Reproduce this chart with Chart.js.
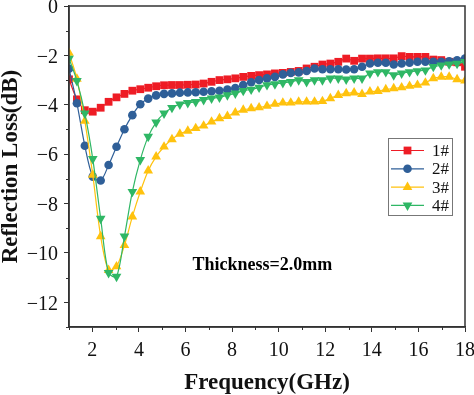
<!DOCTYPE html>
<html>
<head>
<meta charset="utf-8">
<script src="https://cdn.jsdelivr.net/npm/chart.js@4/dist/chart.umd.min.js"></script>
<style>
  html, body { margin: 0; padding: 0; background: #fff; }
  #rlChart { display: block; }
</style>
</head>
<body>
<canvas id="rlChart" width="474" height="395"></canvas>
<script>
// Reflection loss vs frequency, thickness 2.0 mm
const freqs = [
    1.00, 1.34, 1.68, 2.02, 2.36, 2.70, 3.04, 3.38, 3.72, 4.06,
    4.40, 4.74, 5.08, 5.42, 5.76, 6.10, 6.44, 6.78, 7.12, 7.46,
    7.80, 8.14, 8.48, 8.82, 9.16, 9.50, 9.84, 10.18, 10.52, 10.86,
    11.20, 11.54, 11.88, 12.22, 12.56, 12.90, 13.24, 13.58, 13.92, 14.26,
    14.60, 14.94, 15.28, 15.62, 15.96, 16.30, 16.64, 16.98, 17.32, 17.66,
    18.00
];

const rl1 = [
    -2.97, -3.78, -4.22, -4.28, -4.12, -3.88, -3.70, -3.56, -3.43, -3.37,
    -3.31, -3.25, -3.21, -3.20, -3.20, -3.19, -3.18, -3.14, -3.07, -3.00,
    -2.97, -2.93, -2.87, -2.83, -2.80, -2.77, -2.73, -2.71, -2.67, -2.63,
    -2.53, -2.46, -2.37, -2.33, -2.26, -2.13, -2.22, -2.13, -2.13, -2.12,
    -2.12, -2.12, -2.03, -2.06, -2.06, -2.06, -2.17, -2.19, -2.26, -2.28,
    -2.46
];

const rl2 = [
    -2.54, -3.94, -5.66, -6.91, -7.07, -6.44, -5.70, -4.99, -4.42, -3.98,
    -3.75, -3.62, -3.56, -3.54, -3.51, -3.50, -3.49, -3.47, -3.45, -3.43,
    -3.38, -3.32, -3.20, -3.09, -3.00, -2.93, -2.87, -2.77, -2.71, -2.69,
    -2.63, -2.53, -2.56, -2.56, -2.56, -2.57, -2.56, -2.46, -2.33, -2.30,
    -2.30, -2.37, -2.33, -2.30, -2.26, -2.26, -2.26, -2.26, -2.24, -2.20,
    -2.13
];

const rl3 = [
    -1.90, -2.95, -4.66, -6.84, -9.33, -10.70, -10.55, -9.69, -8.53, -7.52,
    -6.67, -6.10, -5.70, -5.40, -5.18, -5.06, -4.95, -4.85, -4.69, -4.55,
    -4.46, -4.32, -4.21, -4.15, -4.11, -4.05, -3.97, -3.92, -3.92, -3.88,
    -3.88, -3.88, -3.86, -3.74, -3.61, -3.54, -3.51, -3.57, -3.47, -3.45,
    -3.38, -3.34, -3.30, -3.24, -3.20, -3.11, -2.93, -2.87, -2.87, -2.97,
    -3.03
];

const rl4 = [
    -2.13, -3.03, -4.35, -6.19, -8.61, -10.81, -10.96, -9.33, -7.52, -6.23,
    -5.29, -4.71, -4.35, -4.12, -3.98, -3.92, -3.88, -3.80, -3.74, -3.70,
    -3.61, -3.54, -3.43, -3.38, -3.30, -3.20, -3.16, -3.11, -3.07, -3.00,
    -3.07, -3.00, -3.00, -2.93, -2.93, -2.97, -2.93, -2.93, -2.73, -2.67,
    -2.67, -2.80, -2.73, -2.67, -2.63, -2.60, -2.46, -2.40, -2.36, -2.33,
    -2.26
];

const seriesNames = ['1#', '2#', '3#', '4#'];
const noteText = 'Thickness=2.0mm';
const noteAt = [9.3, -10.5];

const serif = '"Liberation Serif", "Times New Roman", serif';

function toPoints(values) {
    return freqs.map((f, i) => ({ x: f, y: values[i] }));
}

function makeSet(label, values, color, style, radius, rotation, order) {
    return {
        label: label,
        data: toPoints(values),
        borderColor: color,
        backgroundColor: color,
        borderWidth: 1.2,
        pointStyle: style,
        pointRadius: radius,
        pointRotation: rotation,
        pointBorderWidth: 0,
        pointBackgroundColor: color,
        tension: 0.3,
        order: order
    };
}

const datasets = [
    makeSet(seriesNames[0], rl1, '#ee1c25', 'rect', 5.5, 0, 4),
    makeSet(seriesNames[1], rl2, '#2f5f98', 'circle', 4.3, 0, 3),
    makeSet(seriesNames[2], rl3, '#ffc20e', 'triangle', 5.6, 0, 2),
    makeSet(seriesNames[3], rl4, '#2fb765', 'triangle', 5.6, 180, 1)
];

// frame, minor ticks, note text and the boxed legend
const decorPlugin = {
    id: 'decor',
    afterDraw(chart) {
        const { ctx, chartArea: a, scales } = chart;
        const xs = scales.x, ys = scales.y;
        ctx.save();

        ctx.strokeStyle = '#333';
        ctx.lineWidth = 1.5;
        ctx.strokeRect(a.left, a.top, a.right - a.left, a.bottom - a.top);

        ctx.lineWidth = 1;
        ctx.beginPath();
        for (let v = 1; v <= 17; v += 2) {
            const px = Math.round(xs.getPixelForValue(v)) + 0.5;
            ctx.moveTo(px, a.bottom);
            ctx.lineTo(px, a.bottom + 3);
        }
        for (let v = -13; v <= -1; v += 2) {
            const py = Math.round(ys.getPixelForValue(v)) + 0.5;
            ctx.moveTo(a.left, py);
            ctx.lineTo(a.left - 3, py);
        }
        ctx.stroke();

        ctx.fillStyle = '#000';
        ctx.font = 'bold 18px ' + serif;
        ctx.textAlign = 'center';
        ctx.textBaseline = 'middle';
        ctx.fillText(noteText, xs.getPixelForValue(noteAt[0]), ys.getPixelForValue(noteAt[1]));

        // legend box
        const bx = a.right - 77, by = a.top + 132, bw = 64, bh = 77;
        ctx.strokeStyle = '#777';
        ctx.lineWidth = 1;
        ctx.strokeRect(bx + 0.5, by + 0.5, bw, bh);
        ctx.font = '17px ' + serif;
        ctx.textAlign = 'left';
        chart.data.datasets.forEach((ds, i) => {
            const ry = by + 12.5 + i * 18.3;
            ctx.strokeStyle = ds.borderColor;
            ctx.lineWidth = 1.2;
            ctx.beginPath();
            ctx.moveTo(bx + 3, ry);
            ctx.lineTo(bx + 36, ry);
            ctx.stroke();
            ctx.fillStyle = ds.borderColor;
            Chart.helpers.drawPoint(ctx, {
                pointStyle: ds.pointStyle,
                radius: ds.pointRadius,
                rotation: ds.pointRotation,
                borderWidth: 0
            }, bx + 19.5, ry);
            ctx.fillStyle = '#111';
            ctx.fillText(ds.label, bx + 44, ry + 1);
        });

        ctx.restore();
    }
};

const chart = new Chart(document.getElementById('rlChart'), {
    type: 'line',
    data: { datasets: datasets },
    options: {
        responsive: false,
        animation: false,
        layout: { padding: { top: 6, right: 9, left: 0, bottom: 0 } },
        plugins: {
            legend: { display: false },
            tooltip: { enabled: false }
        },
        scales: {
            x: {
                type: 'linear',
                min: 1,
                max: 18,
                border: { display: true, color: '#333', width: 1.5 },
                grid: {
                    display: true,
                    drawOnChartArea: false,
                    drawTicks: true,
                    tickLength: 5,
                    tickColor: c => (c.tick && c.tick.value % 2 === 0) ? '#333' : 'rgba(0,0,0,0)'
                },
                ticks: {
                    stepSize: 1,
                    autoSkip: false,
                    maxRotation: 0,
                    padding: 7,
                    color: '#111',
                    font: { family: serif, size: 20 },
                    callback: v => (v % 2 === 0 ? String(v) : '')
                },
                title: {
                    display: true,
                    text: 'Frequency(GHz)',
                    color: '#111',
                    font: { family: serif, size: 23, weight: 'bold', lineHeight: 1 },
                    padding: { top: 0, bottom: 0 }
                },
                afterFit: s => {
                    s.paddingLeft = 0;
                    s.paddingRight = 0;
                    s.height = 68;
                }
            },
            y: {
                min: -13,
                max: 0,
                border: { display: true, color: '#333', width: 1.5 },
                grid: {
                    display: true,
                    drawOnChartArea: false,
                    drawTicks: true,
                    tickLength: 5,
                    tickColor: c => (c.tick && c.tick.value % 2 === 0) ? '#333' : 'rgba(0,0,0,0)'
                },
                ticks: {
                    stepSize: 1,
                    autoSkip: false,
                    padding: 6,
                    labelOffset: 2,
                    color: '#111',
                    font: { family: serif, size: 20 },
                    callback: v => (v % 2 === 0 ? (v < 0 ? '\u2212' + Math.abs(v) : String(v)) : '')
                },
                title: {
                    display: true,
                    text: 'Reflection Loss(dB)',
                    color: '#111',
                    font: { family: serif, size: 23, weight: 'bold', lineHeight: 1 },
                    padding: { top: 0, bottom: 0 }
                },
                afterFit: s => {
                    s.paddingTop = 0;
                    s.paddingBottom = 0;
                    s.width = 69;
                }
            }
        }
    },
    plugins: [decorPlugin]
});
</script>
</body>
</html>
